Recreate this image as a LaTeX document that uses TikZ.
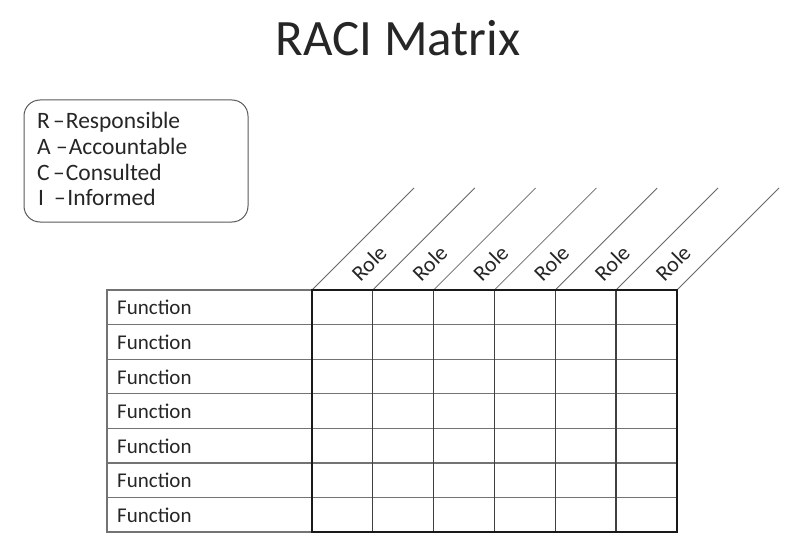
\documentclass[tikz,border=0pt]{standalone}
\usepackage{fontspec}
\setmainfont{Carlito}
\begin{document}
\begin{tikzpicture}[x=1pt, y=-1pt, inner sep=0pt, text=black!85,
      every node/.style={font=\fontsize{21}{25}\selectfont},
      key/.style={anchor=base west, font=\fontsize{23.5}{28}\selectfont},
      cell/.style={draw=black!55, line width=1.2pt},
      slant/.style={draw=black!60, line width=0.8pt}]
   \useasboundingbox (0,0) rectangle (800,556);
   \node[anchor=base, font=\fontsize{51}{60}\selectfont] (ttl) at (398,56) {RACI Matrix};
   % legend
   \draw[draw=black!65, line width=1pt, rounded corners=16pt] (24,100) rectangle (248,222);
   \node[key] (kR) at (37,129) {R};
   \node[key] (tR) at (53,129) {–\hspace{1pt}Responsible};
   \node[key] (kA) at (37,155) {A};
   \node[key] (tA) at (56,155) {–\hspace{1pt}Accountable};
   \node[key] (kC) at (37,180.5) {C};
   \node[key] (tC) at (53,180.5) {–\hspace{1pt}Consulted};
   \node[key] (kI) at (38,206) {I};
   \node[key] (tI) at (54,206) {–\hspace{1.5pt}Informed};
   % slanted role headers
   \draw[slant] (312,290) -- ++(102,-102);
   \draw[slant] (372.8,290) -- ++(102,-102);
   \draw[slant] (433.6,290) -- ++(102,-102);
   \draw[slant] (494.4,290) -- ++(102,-102);
   \draw[slant] (555.2,290) -- ++(102,-102);
   \draw[slant] (616,290) -- ++(102,-102);
   \draw[slant] (677,290) -- ++(102,-102);
   \node[rotate=45, font=\fontsize{22}{26}\selectfont] (r1) at (369,263) {Role};
   \node[rotate=45, font=\fontsize{22}{26}\selectfont] (r2) at (429.8,263) {Role};
   \node[rotate=45, font=\fontsize{22}{26}\selectfont] (r3) at (490.6,263) {Role};
   \node[rotate=45, font=\fontsize{22}{26}\selectfont] (r4) at (551.4,263) {Role};
   \node[rotate=45, font=\fontsize{22}{26}\selectfont] (r5) at (612.2,263) {Role};
   \node[rotate=45, font=\fontsize{22}{26}\selectfont] (r6) at (673,263) {Role};
   % table
   \draw[cell] (107,290) rectangle (312,532);
   \draw[cell] (107,324.6) -- (677,324.6);
   \draw[cell] (107,359.2) -- (677,359.2);
   \draw[cell] (107,393.8) -- (677,393.8);
   \draw[cell] (107,428.4) -- (677,428.4);
   \draw[cell] (107,463) -- (677,463);
   \draw[cell] (107,497.6) -- (677,497.6);
   \draw[cell, draw=black!75] (372.8,290) -- (372.8,532);
   \draw[cell, draw=black!75] (433.6,290) -- (433.6,532);
   \draw[cell, draw=black!75] (494.4,290) -- (494.4,532);
   \draw[cell, draw=black!75] (555.2,290) -- (555.2,532);
   \draw[cell, draw=black!75] (616,290) -- (616,532);
   \draw[line width=1.8pt, draw=black!90] (312,290) rectangle (677,532);
   \node[anchor=base west] (f1) at (117,314.8) {Function};
   \node[anchor=base west] (f2) at (117,349.4) {Function};
   \node[anchor=base west] (f3) at (117,384) {Function};
   \node[anchor=base west] (f4) at (117,418.6) {Function};
   \node[anchor=base west] (f5) at (117,453.2) {Function};
   \node[anchor=base west] (f6) at (117,487.8) {Function};
   \node[anchor=base west] (f7) at (117,522.4) {Function};
\end{tikzpicture}
\end{document}
